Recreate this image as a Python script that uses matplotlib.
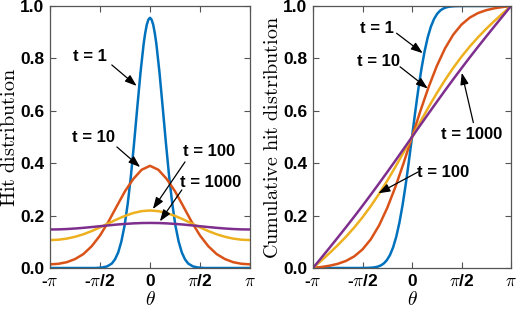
import numpy as np
import matplotlib
matplotlib.use("Agg")
import matplotlib.pyplot as plt

plt.rcParams['mathtext.fontset'] = 'cm'
plt.rcParams['font.family'] = ['Liberation Sans', 'DejaVu Sans']

# grid used by the wide curves (steps of pi/12)
theta_wide = [-3.1416, -2.8798, -2.6180, -2.3562, -2.0944, -1.8326, -1.5708,
              -1.3090, -1.0472, -0.7854, -0.5236, -0.2618, 0.0,
              0.2618, 0.5236, 0.7854, 1.0472, 1.3090, 1.5708,
              1.8326, 2.0944, 2.3562, 2.6180, 2.8798, 3.1416]
# denser grid for the narrow t = 1 curve
theta_narrow = [-3.1416, -2.6, -2.2, -1.9, -1.7, -1.5, -1.35, -1.2, -1.1, -1.0,
                -0.9, -0.8, -0.7, -0.6, -0.5, -0.4, -0.3, -0.2, -0.15, -0.1, -0.05, 0.0,
                0.05, 0.1, 0.15, 0.2, 0.3, 0.4, 0.5, 0.6, 0.7, 0.8, 0.9, 1.0,
                1.1, 1.2, 1.35, 1.5, 1.7, 1.9, 2.2, 2.6, 3.1416]

# hit distribution
hit_t1 = [0.0, 0.0, 0.0, 0.0, 0.0, 0.002, 0.006, 0.017, 0.033, 0.059,
          0.101, 0.161, 0.245, 0.351, 0.477, 0.612, 0.744, 0.855, 0.897, 0.929, 0.948, 0.955,
          0.948, 0.929, 0.897, 0.855, 0.744, 0.612, 0.477, 0.351, 0.245, 0.161, 0.101, 0.059,
          0.033, 0.017, 0.006, 0.002, 0.0, 0.0, 0.0, 0.0, 0.0]
hit_t10 = [0.014, 0.016, 0.022, 0.034, 0.053, 0.083, 0.124, 0.176, 0.235, 0.293, 0.340, 0.375, 0.390,
           0.375, 0.340, 0.293, 0.235, 0.176, 0.124, 0.083, 0.053, 0.034, 0.022, 0.016, 0.014]
hit_t100 = [0.1065, 0.1079, 0.1121, 0.1191, 0.1287, 0.1409, 0.155, 0.1701, 0.1853, 0.1989, 0.2099, 0.2171, 0.2195,
            0.2171, 0.2099, 0.1989, 0.1853, 0.1701, 0.155, 0.1409, 0.1287, 0.1191, 0.1121, 0.1079, 0.1065]
hit_t1000 = [0.147, 0.1474, 0.1487, 0.1507, 0.1533, 0.1563, 0.1595, 0.1627, 0.1658, 0.1683, 0.1703, 0.1716, 0.172,
             0.1716, 0.1703, 0.1683, 0.1658, 0.1627, 0.1595, 0.1563, 0.1533, 0.1507, 0.1487, 0.1474, 0.147]

# cumulative hit distribution
cum_t1 = [0.0, 0.0, 0.0, 0.0, 0.0, 0.0002, 0.0007, 0.0023, 0.0047, 0.0092,
          0.0169, 0.0296, 0.0494, 0.0785, 0.1192, 0.1728, 0.2395, 0.3185, 0.3617, 0.4067, 0.4530, 0.5,
          0.5470, 0.5933, 0.6383, 0.6815, 0.7605, 0.8272, 0.8808, 0.9215, 0.9506, 0.9704, 0.9831, 0.9908,
          0.9953, 0.9977, 0.9993, 0.9998, 1.0, 1.0, 1.0, 1.0, 1.0]
cum_t10 = [0.0, 0.0038, 0.0087, 0.0159, 0.0270, 0.0444, 0.0709, 0.1093, 0.1619, 0.2295, 0.3105, 0.4021, 0.5,
           0.5979, 0.6895, 0.7705, 0.8381, 0.8907, 0.9291, 0.9556, 0.9730, 0.9841, 0.9913, 0.9962, 1.0]
cum_t100 = [0.0, 0.028, 0.0568, 0.087, 0.1195, 0.1547, 0.1935, 0.2361, 0.2827, 0.333, 0.3867, 0.4427, 0.5,
            0.5573, 0.6133, 0.667, 0.7173, 0.7639, 0.8065, 0.8453, 0.8805, 0.913, 0.9432, 0.972, 1.0]
cum_t1000 = [0.0, 0.0385, 0.0771, 0.1162, 0.1558, 0.1962, 0.2375, 0.2796, 0.3225, 0.3662, 0.4104, 0.4551, 0.5,
             0.5449, 0.5896, 0.6338, 0.6775, 0.7204, 0.7625, 0.8038, 0.8442, 0.8838, 0.9229, 0.9615, 1.0]

colors = ['#0072BD', '#D95319', '#EDB120', '#7E2F8E']
xtick_vals = [-np.pi, -np.pi / 2, 0, np.pi / 2, np.pi]
xtick_labels = [r'-$\pi$', r'-$\pi$/2', '0', r'$\pi$/2', r'$\pi$']

fig = plt.figure(figsize=(5.2, 3.09), dpi=100)
ax1 = fig.add_axes([50 / 520, 41 / 309, 200 / 520, 262 / 309])
ax2 = fig.add_axes([313 / 520, 41 / 309, 198 / 520, 262 / 309])


def style_axes(ax, ylabel):
    ax.set_xlim(-np.pi, np.pi)
    ax.set_ylim(0, 1)
    ax.set_xticks(xtick_vals)
    ax.set_xticklabels(xtick_labels)
    ax.set_yticks([0, 0.2, 0.4, 0.6, 0.8, 1.0])
    ax.set_yticklabels(['0.0', '0.2', '0.4', '0.6', '0.8', '1.0'])
    ax.tick_params(direction='in', top=True, right=True, length=4, width=0.8,
                   color='#555555', labelsize=12.5, pad=4)
    for lab in ax.get_xticklabels() + ax.get_yticklabels():
        lab.set_fontweight('bold')
    for s in ax.spines.values():
        s.set_color('#555555')
        s.set_linewidth(0.9)
    ax.set_xlabel(r'$\theta$', fontsize=14, labelpad=1.5)
    ax.set_ylabel(ylabel, fontsize=14.5, labelpad=1)


def label_arrow(ax, text, text_xy, tail, tip):
    ax.text(text_xy[0], text_xy[1], text, ha='center', va='center',
            fontsize=12, fontweight='bold')
    ax.annotate('', xy=tip, xytext=tail,
                arrowprops=dict(arrowstyle='-|>,head_length=0.7,head_width=0.25',
                                color='k', lw=0.9, mutation_scale=10,
                                shrinkA=0, shrinkB=0))


ax1.plot(theta_narrow, hit_t1, color=colors[0], lw=1.8)
ax1.plot(theta_wide, hit_t10, color=colors[1], lw=1.8)
ax1.plot(theta_wide, hit_t100, color=colors[2], lw=1.8)
ax1.plot(theta_wide, hit_t1000, color=colors[3], lw=1.8)
style_axes(ax1, r'$\mathrm{Hit\ distribution}$')

label_arrow(ax1, 't = 1', (-1.885, 0.809), (-1.20, 0.775), (-0.42, 0.695))
label_arrow(ax1, 't = 10', (-1.79, 0.50), (-1.04, 0.462), (-0.31, 0.385))
label_arrow(ax1, 't = 100', (1.85, 0.443), (1.10, 0.405), (0.09, 0.225))
label_arrow(ax1, 't = 1000', (1.92, 0.328), (1.00, 0.298), (0.31, 0.178))

ax2.plot(theta_narrow, cum_t1, color=colors[0], lw=1.8)
ax2.plot(theta_wide, cum_t10, color=colors[1], lw=1.8)
ax2.plot(theta_wide, cum_t100, color=colors[2], lw=1.8)
ax2.plot(theta_wide, cum_t1000, color=colors[3], lw=1.8)
style_axes(ax2, r'$\mathrm{Cumulative\ hit\ distribution}$')

label_arrow(ax2, 't = 1', (-1.11, 0.916), (-0.49, 0.896), (0.34, 0.82))
label_arrow(ax2, 't = 10', (-1.05, 0.79), (-0.38, 0.768), (0.50, 0.685))
label_arrow(ax2, 't = 1000', (1.905, 0.511), (1.946, 0.555), (1.58, 0.745))
label_arrow(ax2, 't = 100', (0.984, 0.366), (0.20, 0.367), (-1.07, 0.285))

fig.savefig('out.png', dpi=100)
